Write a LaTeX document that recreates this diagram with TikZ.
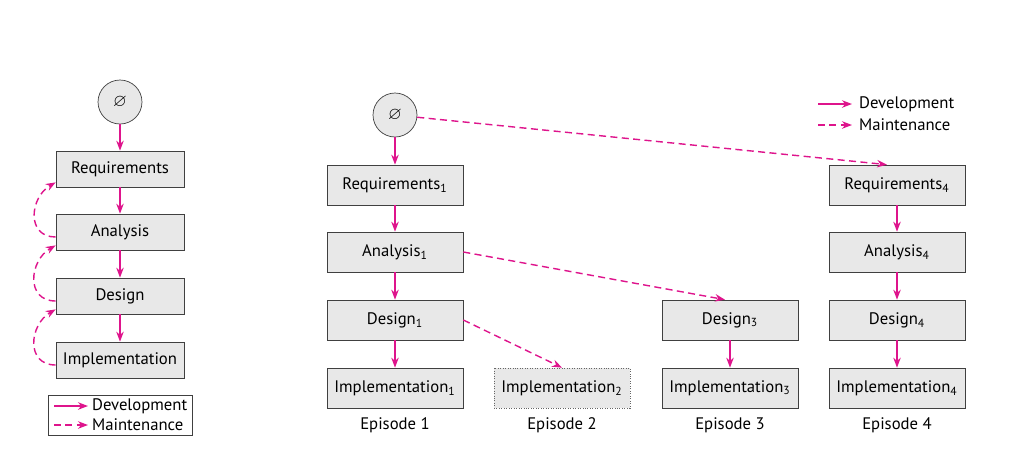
\documentclass[tikz,border=0pt]{standalone}
\usepackage{amssymb}
\usepackage{fontspec}
\setmainfont{PT Sans}
\usetikzlibrary{arrows.meta,positioning}
\definecolor{dev}{RGB}{222,20,140}
\definecolor{boxfill}{RGB}{232,232,232}
\tikzset{
    phase/.style={rectangle, draw=black!75, fill=boxfill, minimum width=2.56cm, minimum height=0.72cm, font=\fontsize{9.5}{11}\selectfont},
    wphase/.style={phase, minimum width=2.72cm, minimum height=0.8cm},
    start/.style={circle, draw=black!75, fill=boxfill, minimum size=0.88cm, inner sep=0pt},
    devline/.style={draw=dev, thick, -{Stealth[length=2mm]}},
    mntline/.style={draw=dev, thick, dash pattern=on 4pt off 2.5pt, -{Stealth[length=2mm]}},
    lbl/.style={font=\fontsize{9.5}{11}\selectfont, anchor=west, inner sep=1pt}
}
\begin{document}
\begin{tikzpicture}[x=0.02cm, y=-0.02cm]
    \useasboundingbox (0,0) rectangle (1024,461);
    % Left: single model
    \node [start] (e0) at (120,102) {$\varnothing$};
    \node [phase] (req) at (120,169) {Requirements};
    \node [phase] (ana) at (120,232) {Analysis};
    \node [phase] (des) at (120,296) {Design};
    \node [phase] (imp) at (120,360) {Implementation};
    \path [devline] (e0) -- (req);
    \path [devline] (req) -- (ana);
    \path [devline] (ana) -- (des);
    \path [devline] (des) -- (imp);
    \path [mntline] ([yshift=-0.1cm]ana.west) to [out=180, in=210, looseness=1.4] ([yshift=0.1cm]req.south west);
    \path [mntline] ([yshift=-0.1cm]des.west) to [out=180, in=210, looseness=1.4] ([yshift=0.1cm]ana.south west);
    \path [mntline] ([yshift=-0.1cm]imp.west) to [out=180, in=210, looseness=1.4] ([yshift=0.1cm]des.south west);
    % Left legend
    \draw [black!75] (48,395) rectangle (192,435);
    \coordinate (la1) at (54,406); \coordinate (lb1) at (88,406);
    \coordinate (la2) at (54,425); \coordinate (lb2) at (88,425);
    \path [devline] (la1) -- (lb1);
    \path [mntline] (la2) -- (lb2);
    \node [lbl] (ldev) at (90,406) {Development};
    \node [lbl] (lmnt) at (90,425) {Maintenance};
    % Right: episodes
    \node [start] (s0) at (395,115) {$\varnothing$};
    \node [wphase] (req1) at (395,185) {Requirements\textsubscript{1}};
    \node [wphase] (ana1) at (395,252) {Analysis\textsubscript{1}};
    \node [wphase] (des1) at (395,320) {Design\textsubscript{1}};
    \node [wphase] (imp1) at (395,388) {Implementation\textsubscript{1}};
    \node [wphase, draw=black!60, densely dotted] (imp2) at (562,388) {Implementation\textsubscript{2}};
    \node [wphase] (des3) at (730,320) {Design\textsubscript{3}};
    \node [wphase] (imp3) at (730,388) {Implementation\textsubscript{3}};
    \node [wphase] (req4) at (897,185) {Requirements\textsubscript{4}};
    \node [wphase] (ana4) at (897,252) {Analysis\textsubscript{4}};
    \node [wphase] (des4) at (897,320) {Design\textsubscript{4}};
    \node [wphase] (imp4) at (897,388) {Implementation\textsubscript{4}};
    \path [devline] (s0) -- (req1);
    \path [devline] (req1) -- (ana1);
    \path [devline] (ana1) -- (des1);
    \path [devline] (des1) -- (imp1);
    \path [devline] (des3) -- (imp3);
    \path [devline] (req4) -- (ana4);
    \path [devline] (ana4) -- (des4);
    \path [devline] (des4) -- (imp4);
    \path [mntline] (s0) -- ([xshift=-0.2cm]req4.north);
    \path [mntline] (ana1.east) -- ([xshift=-0.1cm]des3.north);
    \path [mntline] (des1.east) -- (imp2.north);
    % Episode labels
    \node [font=\fontsize{9.5}{11}\selectfont] (ep1) at (395,425) {Episode 1};
    \node [font=\fontsize{9.5}{11}\selectfont] (ep2) at (562,425) {Episode 2};
    \node [font=\fontsize{9.5}{11}\selectfont] (ep3) at (730,425) {Episode 3};
    \node [font=\fontsize{9.5}{11}\selectfont] (ep4) at (897,425) {Episode 4};
    % Right legend
    \coordinate (ra1) at (818,104); \coordinate (rb1) at (852,104);
    \coordinate (ra2) at (818,125); \coordinate (rb2) at (852,125);
    \path [devline] (ra1) -- (rb1);
    \path [mntline] (ra2) -- (rb2);
    \node [lbl] (rdev) at (857,104) {Development};
    \node [lbl] (rmnt) at (857,125) {Maintenance};
\end{tikzpicture}
\end{document}
